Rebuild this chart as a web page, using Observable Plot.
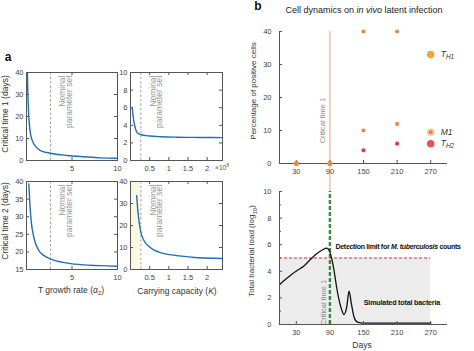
<!DOCTYPE html>
<html><head><meta charset="utf-8">
<script src="https://cdn.jsdelivr.net/npm/d3@7"></script>
<script src="https://cdn.jsdelivr.net/npm/@observablehq/plot@0.6"></script>
<style>
body{margin:0;background:#fff;}
#root{position:relative;width:474px;height:351px;overflow:hidden;font-family:"Liberation Sans",Arial,sans-serif;color:#333;}
.lab{position:absolute;white-space:nowrap;line-height:1;transform:translate(-50%,-50%);}
</style></head><body><div id="root"></div>
<script>
// ---------- DATA ----------
// Panel a: critical times vs T growth rate (alpha2)
const alphaCT1 = [0.1, 0.15, 0.26, 0.44, 0.8, 1.54, 2.64, 4.5, 6.3, 8.1, 10];
const ct1ByAlpha = [40, 30.3, 19.7, 12.1, 7.6, 4.5, 3.3, 2.3, 1.7, 1.2, 1.05];
const alphaCT2 = [0.26, 0.37, 0.51, 0.8, 1.35, 1.9, 2.6, 4.5, 6.3, 8.1, 10];
const ct2ByAlpha = [39.3, 33.7, 28.9, 24.2, 20.4, 19, 18, 16.8, 16.3, 16.1, 15.9];
// Panel a: critical times vs carrying capacity K (x 1e8)
const kCT1 = [0.045, 0.07, 0.09, 0.13, 0.17, 0.26, 0.5, 0.8, 1.2, 1.8, 2.4];
const ct1ByK = [6.0, 5.0, 4.35, 3.6, 3.2, 2.95, 2.78, 2.7, 2.65, 2.62, 2.6];
const kCT2 = [0.16, 0.2, 0.26, 0.35, 0.48, 0.74, 1.17, 1.6, 2.4];
const ct2ByK = [33.6, 25.3, 17.7, 13.2, 10.5, 7.9, 6.4, 5.6, 5.0];
const nominalAlpha = 2.64;
const nominalK = 0.27;
const alphaTicks = [5, 10];
const kTicks = [0.5, 1, 1.5, 2];
const ct1AlphaTicks = [0, 10, 20, 30, 40];
const ct1KTicks = [0, 2, 4, 6, 8, 10];
const ct2AlphaTicks = [15, 20, 25, 30, 35, 40];
const ct2KTicks = [0, 10, 20, 30, 40];

// Panel b top: percentage of positive cells
const cellTypes = ["TH1", "M1", "TH2"];
const sampleDays = [30, 90, 150, 210, 270];
const pctTH1 = [0, 0, 40, 40, 33];
const pctM1 = [0, 0, 10, 12, 9.5];
const pctTH2 = [0, 0, 4, 6, 6];
const dayTicks = [30, 90, 150, 210, 270];
const pctTicks = [0, 10, 20, 30, 40];
const criticalTime1 = 90;

// Panel b bottom: simulated total bacteria (log10)
const simDays = [0, 13.7, 22.7, 31.7, 43.6, 55.6, 67.5, 76.4, 84.2, 88.4, 92.6, 97.4, 102, 108, 115.3, 120, 124.2, 128.4, 133.2, 139.2, 151, 200, 270];
const simLoad = [3.0, 3.5, 3.8, 4.06, 4.4, 4.9, 5.36, 5.6, 5.74, 5.6, 5.06, 4.06, 2.8, 1.55, 0.75, 1.3, 2.5, 1.55, 0.55, 0.18, 0.1, 0.1, 0.1];
const detectionLimit = 5;
const simEnd = 270;
const loadTicks = [0, 2, 4, 6, 8, 10];
const loadMinorTicks = [1, 3, 5, 7, 9];

// ---------- LAYOUT ----------
const root = document.getElementById("root");
const FONT = "'Liberation Sans', Arial, sans-serif";
const AX = "#555";

function put(el, left, top) {
  el.style.position = "absolute";
  el.style.left = left + "px";
  el.style.top = top + "px";
  root.appendChild(el);
}
function label(html, cx, cy, {size = 8, rotate = 0, weight = "normal", color = "#333", family = FONT} = {}) {
  const d = document.createElement("div");
  d.className = "lab";
  d.innerHTML = html;
  d.style.left = cx + "px";
  d.style.top = cy + "px";
  d.style.fontSize = size + "px";
  d.style.fontWeight = weight;
  d.style.color = color;
  d.style.fontFamily = family;
  d.style.transform = `translate(-50%,-50%) rotate(${rotate}deg)`;
  root.appendChild(d);
}

function panelA(cfg) {
  const {x0, x1, y0, y1} = cfg;
  const W = x1 - x0, H = y1 - y0;
  const m = {l: 22, r: 10, t: 6, b: 14};
  const pts = cfg.xs.map((x, i) => ({x, y: cfg.ys[i]}));
  const marks = [];
  if (cfg.band) marks.push(Plot.rect([cfg.band], {x1: d => d[0], x2: d => d[1], y1: cfg.yDomain[0], y2: cfg.yDomain[1], fill: "#fcf9e2"}));
  marks.push(
    Plot.ruleX([cfg.nominal], {x: d => d, stroke: "#a3a3a3", strokeDasharray: "2.5,2", strokeWidth: 1}),
    Plot.text(["Nominal\nparameter set"], {x: cfg.nominal, text: d => d, frameAnchor: "top", dy: 3, dx: 10, rotate: -90, textAnchor: "end", lineHeight: 0.8, fill: "#9a9a9a", fontSize: 8.5}),
    Plot.line(pts, {x: "x", y: "y", stroke: "#1f6fb6", strokeWidth: 1.4, curve: "monotone-x", clip: true}),
    Plot.tickX(cfg.xTicks, {x: d => d, insetTop: H - 3, stroke: AX}),
    Plot.tickX(cfg.xTicks, {x: d => d, insetBottom: H - 3, stroke: AX}),
    Plot.tickY(cfg.yTicks, {y: d => d, insetRight: W - 3, stroke: AX}),
    Plot.tickY(cfg.yTicks, {y: d => d, insetLeft: W - 3, stroke: AX}),
    Plot.frame({stroke: AX, strokeWidth: 1}),
    Plot.axisX({ticks: cfg.xTicks, tickSize: 0, tickPadding: 5, tickFormat: d => String(d), label: null}),
    Plot.axisY({ticks: cfg.yTicks, tickSize: 0, tickPadding: 3, tickFormat: d => String(d), label: null})
  );
  const p = Plot.plot({
    width: W + m.l + m.r, height: H + m.t + m.b,
    marginLeft: m.l, marginRight: m.r, marginTop: m.t, marginBottom: m.b,
    x: {domain: cfg.xDomain, label: null},
    y: {domain: cfg.yDomain, label: null},
    style: {background: "transparent", fontFamily: FONT, fontSize: "7.5px", color: "#444", overflow: "visible"},
    marks
  });
  put(p, x0 - m.l, y0 - m.t);
}

panelA({x0: 26, x1: 117, y0: 72, y1: 160, xDomain: [0, 10], yDomain: [0, 40], xs: alphaCT1, ys: ct1ByAlpha, nominal: nominalAlpha, xTicks: alphaTicks, yTicks: ct1AlphaTicks});
panelA({x0: 130, x1: 222, y0: 72, y1: 160, xDomain: [0, 2.4], yDomain: [0, 10], xs: kCT1, ys: ct1ByK, nominal: nominalK, xTicks: kTicks, yTicks: ct1KTicks});
panelA({x0: 26, x1: 117, y0: 181, y1: 269, xDomain: [0, 10], yDomain: [15, 40], xs: alphaCT2, ys: ct2ByAlpha, nominal: nominalAlpha, xTicks: alphaTicks, yTicks: ct2AlphaTicks, band: [0, 0.1]});
panelA({x0: 130, x1: 222, y0: 181, y1: 269, xDomain: [0, 2.4], yDomain: [0, 40], xs: kCT2, ys: ct2ByK, nominal: nominalK, xTicks: kTicks, yTicks: ct2KTicks, band: [0, 0.24]});

// ---------- Panel b top ----------
{
  const x0 = 279, x1 = 447, y0 = 31, y1 = 163;
  const W = x1 - x0, H = y1 - y0;
  const m = {l: 28, r: 27, t: 6, b: 14};
  const series = {TH1: pctTH1, M1: pctM1, TH2: pctTH2};
  const rows = [];
  for (const t of ["TH2", "M1", "TH1"]) sampleDays.forEach((d, i) => rows.push({type: t, day: d, pct: series[t][i], last: d === 270}));
  const small = rows.filter(r => !r.last);
  const big = rows.filter(r => r.last);
  const bigFill = {TH1: "#f5a04c", M1: "#f9c28e", TH2: "#ee5050"};
  const smallFill = {TH1: "#f08a3a", M1: "#f08a3a", TH2: "#e03c3c"};
  const p = Plot.plot({
    width: W + m.l + m.r, height: H + m.t + m.b,
    marginLeft: m.l, marginRight: m.r, marginTop: m.t, marginBottom: m.b,
    x: {domain: [0, 300], label: null},
    y: {domain: [0, 40], label: null},
    style: {background: "transparent", fontFamily: FONT, fontSize: "7.5px", color: "#444", overflow: "visible"},
    marks: [
      Plot.ruleX([criticalTime1], {x: d => d, y1: 40, y2: -8.6, stroke: "#f3a36e", strokeWidth: 1}),
      Plot.text(["Critical time 1"], {x: criticalTime1, y: 13, text: d => d, rotate: -90, dx: -7, fill: "#8a8a8a", fontSize: 7.5}),
      Plot.ruleY([0], {stroke: AX}),
      Plot.ruleX([0], {stroke: AX}),
      Plot.tickX(dayTicks, {x: d => d, insetTop: H - 3, stroke: AX}),
      Plot.tickY(pctTicks, {y: d => d, insetRight: W - 3, stroke: AX}),
      Plot.dot(small, {x: "day", y: "pct", r: d => d.day <= 90 ? 2.6 : 2, fill: d => smallFill[d.type], stroke: null}),
      Plot.dot(big, {x: "day", y: "pct", r: d => d.type === "M1" ? 6 : 6.6, fill: d => bigFill[d.type], stroke: null}),
      Plot.dot(big.filter(d => d.type === "M1"), {x: "day", y: "pct", r: 1.8, fill: "#ec8030"}),
      Plot.text(big, {x: "day", y: "pct", text: "type", dx: 10, textAnchor: "start", fontStyle: "italic", fontSize: 8.5, fill: "#333"}),
      Plot.axisX({ticks: dayTicks, tickSize: 0, tickPadding: 5, label: null}),
      Plot.axisY({ticks: pctTicks, tickSize: 0, tickPadding: 8, label: null})
    ]
  });
  d3.select(p).selectAll("text").each(function() {
    const t = this.textContent;
    if (t === "TH1" || t === "TH2") this.innerHTML = `T<tspan font-size="6.5" dy="2">${t.slice(1)}</tspan>`;
  });
  put(p, x0 - m.l, y0 - m.t);
}

// ---------- Panel b bottom ----------
{
  const x0 = 279, x1 = 447, y0 = 191, y1 = 324;
  const W = x1 - x0, H = y1 - y0;
  const m = {l: 28, r: 27, t: 6, b: 14};
  const sim = simDays.map((d, i) => ({day: d, load: simLoad[i]}));
  const p = Plot.plot({
    width: W + m.l + m.r, height: H + m.t + m.b,
    marginLeft: m.l, marginRight: m.r, marginTop: m.t, marginBottom: m.b,
    x: {domain: [0, 300], label: null},
    y: {domain: [0, 10], label: null},
    style: {background: "transparent", fontFamily: FONT, fontSize: "7.5px", color: "#444", overflow: "visible"},
    marks: [
      Plot.rect([detectionLimit], {x1: 0, x2: simEnd, y1: 0, y2: d => d, fill: "#ececec"}),
      Plot.ruleY([detectionLimit], {y: d => d, x1: 0, x2: simEnd, stroke: "#e0302c", strokeDasharray: "3,2", strokeWidth: 1}),
      Plot.ruleX([criticalTime1], {x: d => d, y1: 0, y2: 10, stroke: "#3c8a3c", strokeWidth: 2.4, strokeDasharray: "4,2"}),
      Plot.text(["Critical time 1"], {x: criticalTime1, y: 1.65, text: d => d, rotate: -90, dx: -6, fill: "#8a8a8a", fontSize: 7.5}),
      Plot.line(sim, {x: "day", y: "load", stroke: "#111", strokeWidth: 1.3, curve: "monotone-x"}),
      Plot.ruleY([0], {stroke: AX}),
      Plot.ruleX([0], {stroke: AX}),
      Plot.tickX(dayTicks, {x: d => d, insetTop: H - 3, stroke: AX}),
      Plot.tickY(loadTicks, {y: d => d, insetRight: W - 3, stroke: AX}),
      Plot.tickY(loadMinorTicks, {y: d => d, insetRight: W - 2, stroke: AX}),
      Plot.text(["Detection limit for M. tuberculosis counts"], {x: 100, y: 5.85, text: d => d, textAnchor: "start", fontSize: 7, fontWeight: 600, fill: "#111"}),
      Plot.text(["Simulated total bacteria"], {x: 150.5, y: 1.65, text: d => d, textAnchor: "start", fontSize: 7.2, fontWeight: 600, fill: "#111"}),
      Plot.axisX({ticks: dayTicks, tickSize: 0, tickPadding: 5, label: null}),
      Plot.axisY({ticks: loadTicks, tickSize: 0, tickPadding: 8, label: null})
    ]
  });
  d3.select(p).selectAll("text").each(function() {
    if (this.textContent === "Detection limit for M. tuberculosis counts") {
      this.innerHTML = `Detection limit for <tspan font-style="italic">M. tuberculosis</tspan> counts`;
      this.style.letterSpacing = "-0.3px";
    } else if (this.textContent === "Simulated total bacteria") {
      this.style.letterSpacing = "-0.2px";
    }
  });
  put(p, x0 - m.l, y0 - m.t);
}

// ---------- Labels ----------
label("a", 8, 57, {size: 12, weight: "bold", color: "#111"});
label("b", 258, 6, {size: 12, weight: "bold", color: "#111"});
label("Cell dynamics on <i>in vivo</i> latent infection", 364, 10, {size: 9, color: "#222"});
label("Critical time 1 (days)", 5, 114, {size: 8.5, rotate: -90});
label("Critical time 2 (days)", 5, 221, {size: 8.5, rotate: -90});
label("T growth rate (α<sub style='font-size:6px'>2</sub>)", 71, 291, {size: 8.5});
label("Carrying capacity (<i>K</i>)", 177, 291, {size: 8.5});
label("×10<sup style='font-size:5px'>8</sup>", 222, 167, {size: 6.5, color: "#555"});
label("Percentage of positive cells", 254, 91, {size: 8, rotate: -90});
label("Total bacterial load (log<sub style='font-size:6px'>10</sub>)", 253, 251, {size: 8, rotate: -90});
label("Days", 362, 345, {size: 8.5});
</script></body></html>
